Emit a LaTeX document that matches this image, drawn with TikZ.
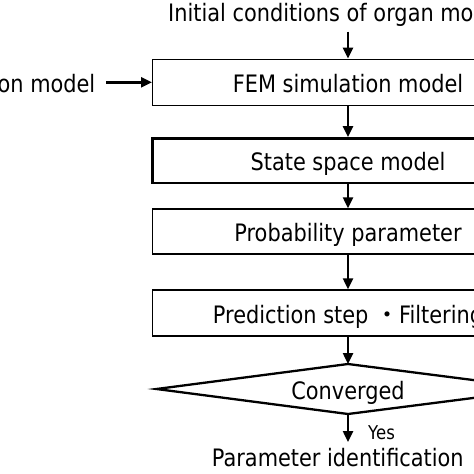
\documentclass[tikz,border=0pt]{standalone}
\usepackage{fontspec}
\setmainfont{DejaVu Sans}[FakeStretch=0.87]
\newfontfamily\jpfont{Noto Sans CJK JP}
\usetikzlibrary{arrows.meta}
\begin{document}
\begin{tikzpicture}[x=1pt,y=-1pt,
  txt/.style={font=\fontsize{24pt}{28pt}\selectfont, inner sep=0pt},
  box/.style={draw, rectangle, minimum width=390.6pt, inner sep=0pt,
    font=\fontsize{24pt}{28pt}\selectfont, text height=20.5pt, text depth=0pt},
  arr/.style={line width=2.4pt, -{Triangle[length=11pt,width=10pt]}}]
\useasboundingbox (0,0) rectangle (474,474);
\clip (0,0) rectangle (474,474);
\node[txt, anchor=base west] (init) at (168,21.7) {Initial conditions of organ mo};
\coordinate (itop) at (348,31.5);
\node[txt, anchor=base east] (left) at (95.5,92.3) {on model};
\coordinate (lstart) at (106,82.3);
\node[box, line width=1.3pt, minimum height=46pt] (fem) at (348,82.3) {FEM simulation model};
\node[box, line width=2.6pt, minimum height=44.7pt] (state) at (348,160.7) {State space model};
\node[box, line width=1.5pt, minimum height=45pt] (prob) at (348,231.5) {Probability parameter};
\node[box, line width=1.5pt, minimum height=46pt] (pred) at (348,313) {Prediction step {\jpfont ・}Filtering};
\coordinate (dtop) at (348,364);
\coordinate (dright) at (543.3,389);
\coordinate (dbot) at (348,414);
\coordinate (dleft) at (156.5,389);
\draw[line width=2.3pt, line join=miter, miter limit=20] (dtop) -- (dright) -- (dbot) -- (dleft) -- cycle;
\node[inner sep=0pt, font=\fontsize{24pt}{28pt}\selectfont, text height=20.5pt, text depth=0pt] (dec) at (348,389) {Converged};
\coordinate (yend) at (348,442);
\node[font=\fontsize{19pt}{22pt}\selectfont, inner sep=0pt, anchor=base west] (yes) at (368,439.3) {Yes};
\node[txt, anchor=base west] (ident) at (211.7,466.7) {Parameter identification};
\draw[arr] (itop) -- (fem.north);
\draw[arr] (lstart) -- (fem.west);
\draw[arr] (fem.south) -- (state.north);
\draw[arr] (state.south) -- (prob.north);
\draw[arr] (prob.south) -- (pred.north);
\draw[arr] (pred.south) -- (dtop);
\draw[arr] (dbot) -- (yend);
\end{tikzpicture}
\end{document}
